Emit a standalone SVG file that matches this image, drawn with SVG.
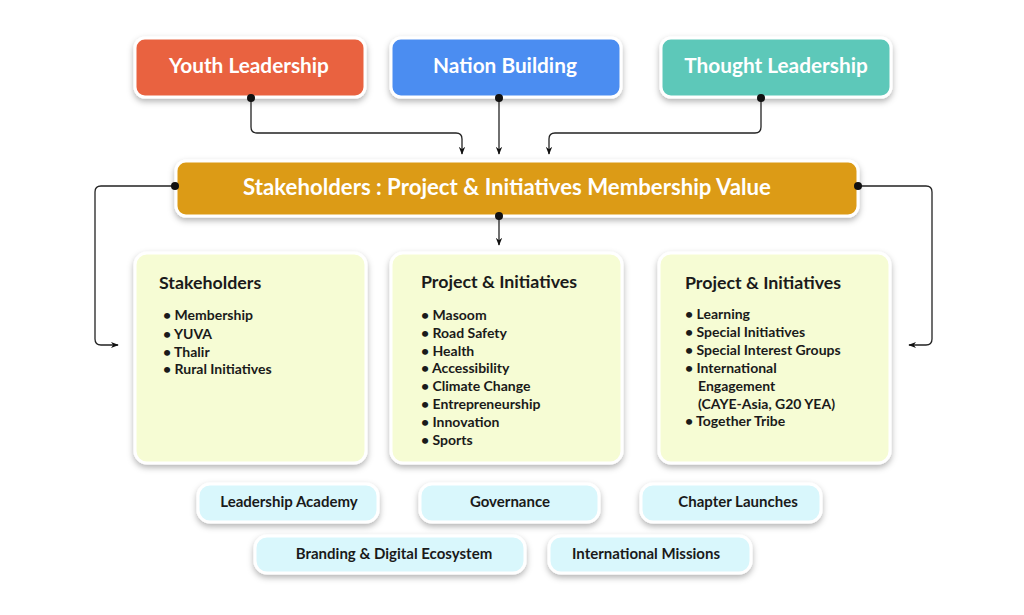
<svg xmlns="http://www.w3.org/2000/svg" width="1024" height="615" viewBox="0 0 1024 615">
<defs>
<filter id="sh" x="-10%" y="-20%" width="120%" height="150%">
<feDropShadow dx="0" dy="3" stdDeviation="3" flood-color="#000" flood-opacity="0.3"/>
</filter>
<marker id="ar" viewBox="0 0 10 10" refX="9" refY="5" markerWidth="8" markerHeight="8" orient="auto" markerUnits="userSpaceOnUse">
<path d="M0,1 L10,5 L0,9 L3,5 Z" fill="#111"/>
</marker>
<marker id="dot" viewBox="0 0 10 10" refX="5" refY="5" markerWidth="8" markerHeight="8" markerUnits="userSpaceOnUse">
<circle cx="5" cy="5" r="5" fill="#111"/>
</marker>
</defs>
<style>
text{font-family:Lato,"Open Sans","Liberation Sans",sans-serif;font-weight:700}
.top{stroke:#fff;stroke-width:3;filter:url(#sh)}
.tt{fill:#fff;font-size:20.8px;text-anchor:middle}
.mt{fill:#fff;font-size:22.2px;text-anchor:middle}
.box{fill:#F6FCD4;stroke:#fff;stroke-width:3;filter:url(#sh)}
.bt{fill:#1a1a1a;font-size:17.8px}
.it{fill:#1a1a1a;font-size:14px}
.pill{fill:#D9F7FC;stroke:#fff;stroke-width:3;filter:url(#sh)}
.pt{fill:#1a1a1a;font-size:15px;text-anchor:middle}
.c{fill:none;stroke:#222;stroke-width:1.3}
</style>
<rect width="1024" height="615" fill="#fff"/>
<g id="youth"><rect class="top" x="135" y="38" width="230" height="59" rx="10" fill="#E9623F"/><text class="tt" x="249" y="73">Youth Leadership</text></g>
<g id="nation"><rect class="top" x="391" y="38" width="230" height="59" rx="10" fill="#4B8DF1"/><text class="tt" x="505" y="73">Nation Building</text></g>
<g id="thought"><rect class="top" x="661" y="38" width="230" height="59" rx="10" fill="#5DC8B9"/><text class="tt" x="776" y="73">Thought Leadership</text></g>
<g id="main"><rect class="top" x="176" y="161" width="682" height="55" rx="10" fill="#DC9B14"/><text class="mt" x="507" y="195">Stakeholders : Project &amp; Initiatives Membership Value</text></g>
<g id="stakeholders"><rect class="box" x="135" y="253" width="231" height="210" rx="12"/>
<text class="bt" x="159" y="289">Stakeholders</text>
<text class="it"><tspan x="163" y="320">• Membership</tspan><tspan x="163" y="339">• YUVA</tspan><tspan x="163" y="357">• Thalir</tspan><tspan x="163" y="374">• Rural Initiatives</tspan></text></g>
<g id="projects1"><rect class="box" x="391" y="253" width="231" height="210" rx="12"/>
<text class="bt" x="421" y="288">Project &amp; Initiatives</text>
<text class="it"><tspan x="421" y="320">• Masoom</tspan><tspan x="421" y="338">• Road Safety</tspan><tspan x="421" y="356">• Health</tspan><tspan x="421" y="373">• Accessibility</tspan><tspan x="421" y="391">• Climate Change</tspan><tspan x="421" y="409">• Entrepreneurship</tspan><tspan x="421" y="427">• Innovation</tspan><tspan x="421" y="445">• Sports</tspan></text></g>
<g id="projects2"><rect class="box" x="659" y="253" width="231" height="210" rx="12"/>
<text class="bt" x="685" y="289">Project &amp; Initiatives</text>
<text class="it"><tspan x="685" y="319">• Learning</tspan><tspan x="685" y="337">• Special Initiatives</tspan><tspan x="685" y="355">• Special Interest Groups</tspan><tspan x="685" y="373">• International</tspan><tspan x="698" y="391">Engagement</tspan><tspan x="698" y="409">(CAYE-Asia, G20 YEA)</tspan><tspan x="685" y="426">• Together Tribe</tspan></text></g>
<g id="leadership-academy"><rect class="pill" x="198" y="484" width="180" height="38" rx="12"/><text class="pt" x="289" y="507">Leadership Academy</text></g>
<g id="governance"><rect class="pill" x="420" y="484" width="179" height="38" rx="12"/><text class="pt" x="510" y="507">Governance</text></g>
<g id="chapter-launches"><rect class="pill" x="641" y="484" width="180" height="38" rx="12"/><text class="pt" x="738" y="507">Chapter Launches</text></g>
<g id="branding"><rect class="pill" x="255" y="536" width="270" height="37" rx="12"/><text class="pt" x="394" y="559">Branding &amp; Digital Ecosystem</text></g>
<g id="intl-missions"><rect class="pill" x="549" y="536" width="202" height="37" rx="12"/><text class="pt" x="646" y="559">International Missions</text></g>
<g id="connectors">
<path class="c" d="M251,98 V127 Q251,133 257,133 H456 Q462,133 462,139 V154" marker-start="url(#dot)" marker-end="url(#ar)"/>
<path class="c" d="M499,98 V154" marker-start="url(#dot)" marker-end="url(#ar)"/>
<path class="c" d="M761,98 V127 Q761,133 755,133 H555 Q549,133 549,139 V154" marker-start="url(#dot)" marker-end="url(#ar)"/>
<path class="c" d="M175,186 H101 Q95,186 95,192 V339 Q95,345 101,345 H118" marker-start="url(#dot)" marker-end="url(#ar)"/>
<path class="c" d="M858,186 H926 Q932,186 932,192 V339 Q932,345 926,345 H909" marker-start="url(#dot)" marker-end="url(#ar)"/>
<path class="c" d="M499,216 V245" marker-start="url(#dot)" marker-end="url(#ar)"/>
</g>
</svg>
